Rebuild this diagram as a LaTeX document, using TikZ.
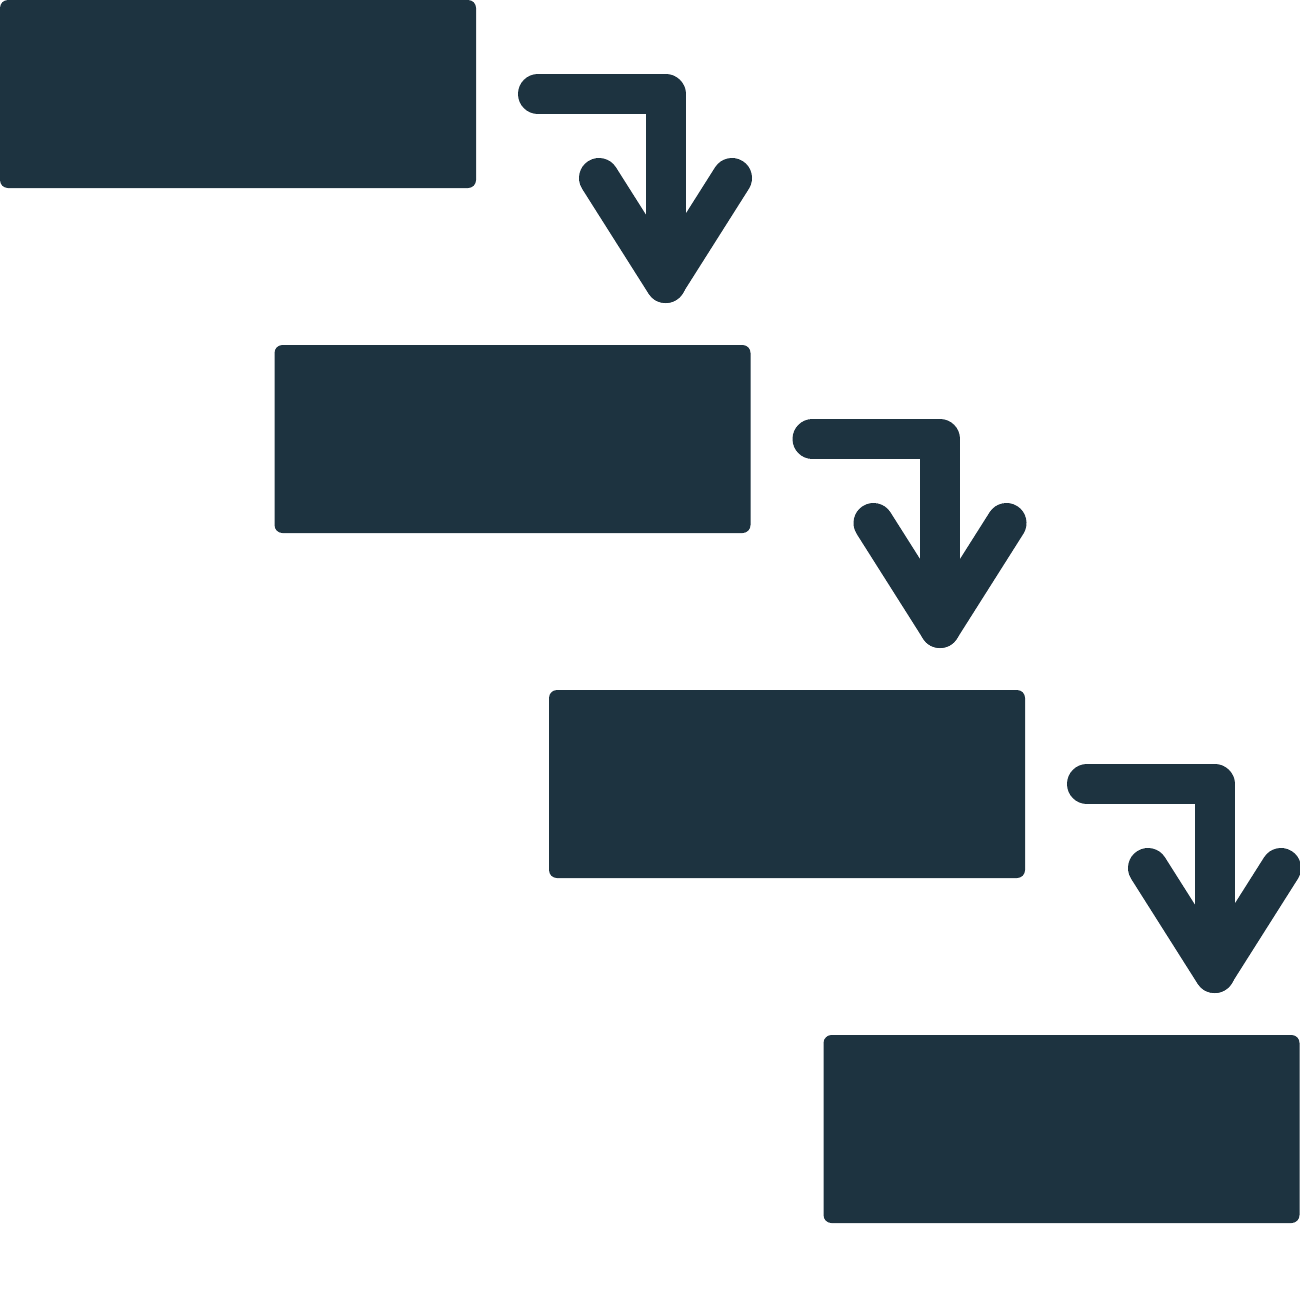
\documentclass[tikz,border=0pt]{standalone}
\usetikzlibrary{calc}
\definecolor{ink}{RGB}{29,51,64}
\begin{document}
\begin{tikzpicture}[x=1pt,y=-1pt,
  stepbox/.style={fill=ink,draw=none,rounded corners=8pt,minimum width=476pt,minimum height=188pt,inner sep=0pt,outer sep=0pt},
  flow/.style={draw=ink,line width=40pt,line cap=round,line join=round}]
\useasboundingbox (0,0) rectangle (1300,1312);
\foreach \i in {0,1,2,3}{
  \node[stepbox] (b\i) at ({238+274.5*\i},{94+345*\i}) {};
}
\foreach \i/\j in {0/1,1/2,2/3}{
  \coordinate (s\i) at ($(b\i.east)+(62,0)$);
  \coordinate (c\i) at ($(b\i.east)+(189.5,0)$);
  \coordinate (t\i) at ($(b\j.north)+(153,-62)$);
  \coordinate (l\i) at ($(t\i)+(-66.5,-105)$);
  \coordinate (r\i) at ($(t\i)+(66.5,-105)$);
  \draw[flow] (s\i) -- (c\i) -- (t\i);
  \draw[flow] (l\i) -- (t\i) -- (r\i);
}
\end{tikzpicture}
\end{document}
